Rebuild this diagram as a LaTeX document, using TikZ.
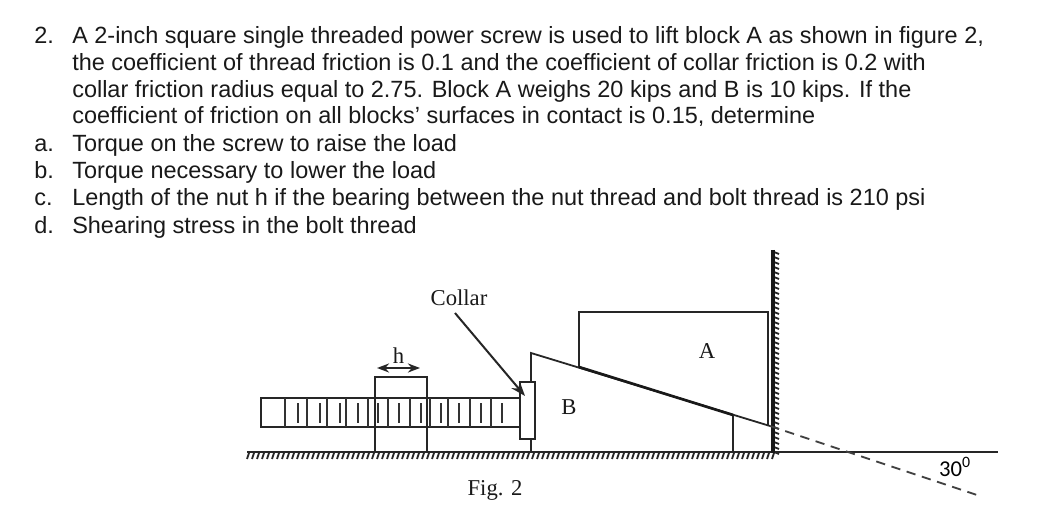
\documentclass[tikz,border=0pt]{standalone}
\usepackage{fontspec}
\setmainfont{Liberation Sans}
\newfontfamily\figfont{Liberation Serif}
\newfontfamily\anglefont{Carlito}
\usetikzlibrary{arrows.meta, positioning}

\begin{document}
\begin{tikzpicture}[
    x=0.75pt, y=-0.75pt,
    >=Stealth,
    textline/.style={anchor=base west, inner sep=0pt, font=\fontsize{17.6}{20}\selectfont, text=black!90},
    figlabel/.style={inner sep=0pt, font=\figfont\fontsize{17}{18}\selectfont, text=black!90},
    outline/.style={draw=black!85, line width=1.35pt},
    thread/.style={draw=black!80, line width=1.2pt},
    hatch/.style={draw=black!85, line width=1.35pt},
    surface/.style={draw=black!85, line width=1.8pt}
]
\useasboundingbox (0,0) rectangle (1048,530);

%-------------------------------------------------
% Problem text
%-------------------------------------------------
\node[textline] (num)   at (34,44)  {2.};
\node[textline] (line1) at (72,44)  {A 2-inch square single threaded power screw is used to lift block A as shown in figure 2,};
\node[textline] (line2) at (72,71)  {the coefficient of thread friction is 0.1 and the coefficient of collar friction is 0.2 with};
\node[textline] (line3) at (72,98)  {collar friction radius equal to 2.75. Block A weighs 20 kips and B is 10 kips. If the};
\node[textline] (line4) at (72,124) {coefficient of friction on all blocks' surfaces in contact is 0.15, determine};
\node[textline] (ita)   at (34,152) {a.};
\node[textline] (linea) at (72,152) {Torque on the screw to raise the load};
\node[textline] (itb)   at (34,179) {b.};
\node[textline] (lineb) at (72,179) {Torque necessary to lower the load};
\node[textline] (itc)   at (34,206) {c.};
\node[textline] (linec) at (72,206) {Length of the nut h if the bearing between the nut thread and bolt thread is 210 psi};
\node[textline] (itd)   at (34,234) {d.};
\node[textline] (lined) at (72,234) {Shearing stress in the bolt thread};

%-------------------------------------------------
% Ground and wall
%-------------------------------------------------
\foreach \x in {248,253,...,773}
    \draw[hatch] (\x+1,453) -- (\x-1,459);
\foreach \y in {252,257,...,452}
    \draw[hatch] (774,\y) -- (779,\y+2);
\draw[surface] (247,452) -- (998,452);
\draw[draw=black!90, line width=3.2pt] (773,250) -- (773,453);

%-------------------------------------------------
% Screw
%-------------------------------------------------
\draw[outline] (261,398) rectangle (520,427);
\foreach \x in {285,307,327,346,368,388,410,430,448,470,491}
    \draw[thread] (\x,398) -- (\x,427);
\foreach \x in {298,320,340,358,378,399,421,441,459,481,502}
    \draw[thread] (\x,403) -- (\x,423);

%-------------------------------------------------
% Nut and collar
%-------------------------------------------------
\draw[outline] (375,452) -- (375,377) -- (427,377) -- (427,452);
\draw[<->, outline] (377,368) -- node[figlabel, above=3pt] (hlabel) {h} (420,368);

\node[draw=black!85, line width=1.35pt, fill=white, minimum width=11.2pt, minimum height=42.8pt, inner sep=0pt] (collar) at (527.5,410.5) {};
\node[figlabel] (collarlabel) at (459,298) {Collar};
\coordinate (collartip) at (525,396);
\coordinate (collartail) at (455,313);
\draw[line width=1.5pt, draw=black!85, -{Stealth[length=11pt,width=8pt]}] (collartail) -- (collartip);

%-------------------------------------------------
% Blocks
%-------------------------------------------------
\draw[outline] (531,382) -- (531,353) -- (770,426);
\draw[outline] (531,439) -- (531,452);
\draw[outline] (733,415) -- (733,452);
\draw[outline] (579,367) -- (579,312) -- (768,312) -- (768,426);
\draw[draw=black!90, line width=2pt] (579,367) -- (733,415);
\node[figlabel] (blockA) at (707,351) {A};
\node[figlabel] (blockB) at (569,407) {B};

%-------------------------------------------------
% Incline and angle
%-------------------------------------------------
\draw[draw=black!75, line width=1.4pt, dash pattern=on 7pt off 5pt] (770,426) -- (977,495);
\node[inner sep=0pt, font=\anglefont\fontsize{17}{18}\selectfont] (angle) at (955,467) {30\textsuperscript{0}};
\node[figlabel] (figname) at (495,490) {Fig. 2};

\end{tikzpicture}
\end{document}
